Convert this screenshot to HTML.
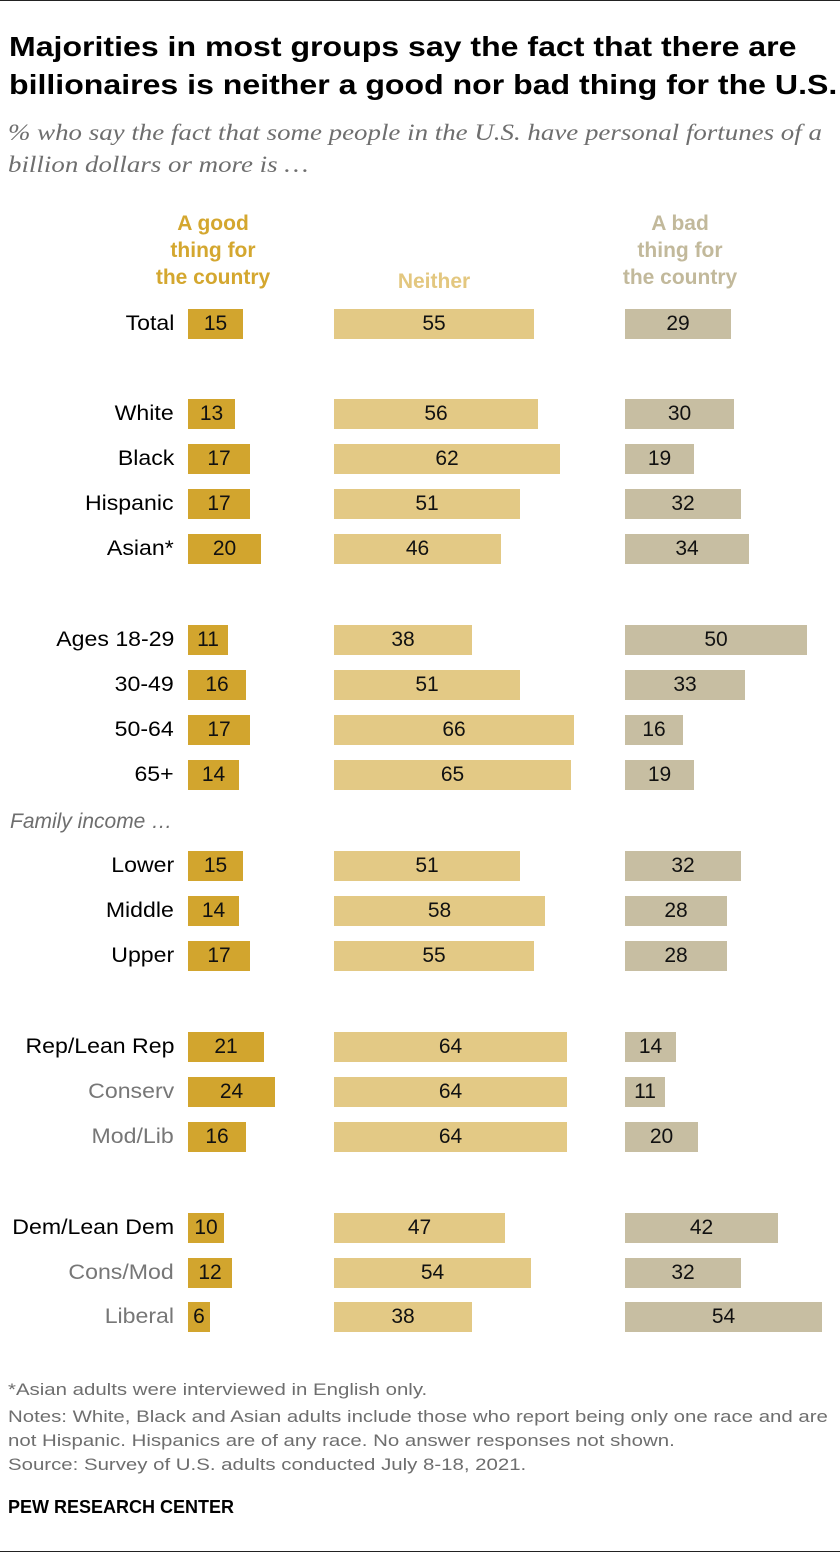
<!DOCTYPE html>
<html><head><meta charset="utf-8"><style>
body{margin:0;width:840px;height:1560px;background:#fff;position:relative;font-family:"Liberation Sans",sans-serif;overflow:hidden}
.a{position:absolute;white-space:nowrap;transform-origin:0 0}
.t{left:9px;font-size:28px;font-weight:bold;color:#000;line-height:38px;transform:scaleX(1.145)}
.s{left:8px;font-size:23px;font-style:italic;color:#6e6e6e;font-family:"Liberation Serif",serif;line-height:32px;transform:scaleX(1.17)}
.h{font-size:21px;font-weight:bold;text-align:center;line-height:27px}
.l{font-size:21px;text-align:right;line-height:30px;transform-origin:100% 0;transform:scaleX(1.1)}
.b{position:absolute;height:30px;font-size:21px;text-align:center;line-height:30px;color:#111}
.g{background:#d2a52e}.n{background:#e3c985}.d{background:#c7bea2}
.f{left:8px;font-size:17px;color:#6e6e6e;line-height:23px;transform:scaleX(1.2)}
</style></head><body>
<div class="a" style="left:0;top:0;width:840px;height:1px;background:#222"></div>
<div class="a t" style="top:28px">Majorities in most groups say the fact that there are</div>
<div class="a t" style="top:66px">billionaires is neither a good nor bad thing for the U.S.</div>
<div class="a s" style="top:117px">% who say the fact that some people in the U.S. have personal fortunes of a</div>
<div class="a s" style="top:149px">billion dollars or more is …</div>
<div class="a h" style="left:143px;width:140px;top:210px;color:#d4a72f">A good<br>thing for<br>the country</div>
<div class="a h" style="left:384px;width:100px;top:268px;color:#e3c77f">Neither</div>
<div class="a h" style="left:610px;width:140px;top:210px;color:#c2b99b">A bad<br>thing for<br>the country</div>
<div class="a" style="left:10px;top:810px;font-size:21px;font-style:italic;color:#6e6e6e">Family income …</div>
<div id="c"></div>
<div class="a f" style="top:1378px">*Asian adults were interviewed in English only.</div>
<div class="a f" style="top:1405px">Notes: White, Black and Asian adults include those who report being only one race and are</div>
<div class="a f" style="top:1429px">not Hispanic. Hispanics are of any race. No answer responses not shown.</div>
<div class="a f" style="top:1453px">Source: Survey of U.S. adults conducted July 8-18, 2021.</div>
<div class="a" style="left:8px;top:1497px;font-size:18px;font-weight:bold;color:#000">PEW RESEARCH CENTER</div>
<div class="a" style="left:0;top:1551px;width:840px;height:1px;background:#222"></div>
<script>
var r=[["Total",324,15,55,29,0],["White",414,13,56,30,0],["Black",459,17,62,19,0],["Hispanic",504,17,51,32,0],["Asian*",549,20,46,34,0],
["Ages 18-29",640,11,38,50,0],["30-49",685,16,51,33,0],["50-64",730,17,66,16,0],["65+",775,14,65,19,0],
["Lower",866,15,51,32,0],["Middle",911,14,58,28,0],["Upper",956,17,55,28,0],
["Rep/Lean Rep",1047,21,64,14,0],["Conserv",1092,24,64,11,1],["Mod/Lib",1137,16,64,20,1],
["Dem/Lean Dem",1228,10,47,42,0],["Cons/Mod",1273,12,54,32,1],["Liberal",1317,6,38,54,1]];
var h="",k=3.64;
r.forEach(function(x){var y=x[1]-15;
h+='<div class="a l" style="right:666px;top:'+y+'px;color:'+(x[5]?'#777':'#000')+'">'+x[0]+'</div>';
h+='<div class="b g" style="left:188px;top:'+y+'px;width:'+Math.round(x[2]*k)+'px">'+x[2]+'</div>';
h+='<div class="b n" style="left:334px;top:'+y+'px;width:'+Math.round(x[3]*k)+'px">'+x[3]+'</div>';
h+='<div class="b d" style="left:625px;top:'+y+'px;width:'+Math.round(x[4]*k)+'px">'+x[4]+'</div>';});
document.getElementById("c").innerHTML=h;
</script>
</body></html>
